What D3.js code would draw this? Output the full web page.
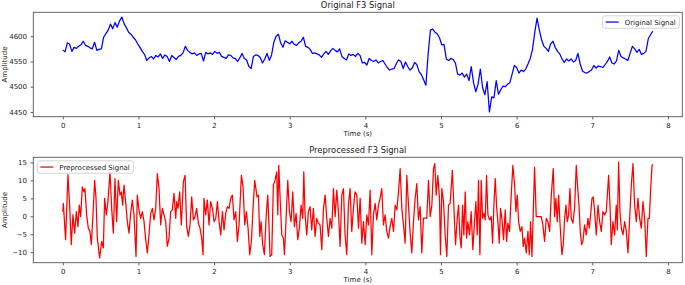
<!DOCTYPE html>
<html>
<head>
<meta charset="utf-8">
<script src="https://cdn.jsdelivr.net/npm/d3@7"></script>
<style>
  body { margin: 0; background: #fff; }
  svg { display: block; font-family: "DejaVu Sans", sans-serif; }
</style>
</head>
<body>
<svg id="chart"></svg>
<script>
const width = 685, height = 285;

// Original F3 signal, one value every 0.03 s (0 .. 7.8 s)
const sampleStep = 0.03;
const origValues = [
  4573,4569,4587,4584,4570,4578,4576,4580,4583,4590,
  4582,4580,4577,4575,4588,4572,4574,4575,4598,4605,
  4612,4624,4615,4627,4618,4630,4638,4625,4617,4608,
  4604,4598,4593,4585,4578,4570,4564,4552,4557,4560,
  4555,4562,4559,4565,4556,4563,4560,4550,4562,4558,
  4554,4560,4562,4567,4580,4572,4568,4565,4567,4562,
  4565,4566,4551,4568,4565,4567,4564,4570,4566,4568,
  4560,4558,4556,4563,4562,4557,4556,4550,4557,4566,
  4556,4553,4540,4536,4560,4563,
  4562,4558,4547,4555,4566,4552,4563,4588,4600,4604,
  4587,4578,4591,4588,4585,4590,4584,4582,4587,4590,
  4598,4580,4578,4574,4566,4567,4565,4563,4558,4565,
  4570,4564,4571,4576,4572,4569,4575,4560,4556,4553,
  4565,4562,4564,4560,4566,4562,4547,4548,4543,4556,
  4552,4550,4553,4547,4550,4552,4545,4538,4533,4535,
  4536,4546,4553,4550,4536,4549,4540,4533,4537,4548,
  4544,4530,4524,4514,4503,4565,4612,4614,4608,4605,
  4597,4583,4584,4555,4552,4556,4554,4547,4525,
  4523,4527,4519,4525,4512,4540,4508,4490,4505,4535,
  4498,4484,4510,4450,4480,4478,4512,4485,4494,4501,
  4500,4505,4508,4525,4542,4538,4527,4533,4530,4535,
  4545,4556,4574,4608,4636,4612,4593,4580,4576,4570,
  4585,4590,4578,4570,4565,4555,4548,4555,4551,4555,
  4549,4552,4566,4545,4531,4528,4527,4530,4533,4542,
  4537,4541,4540,4538,4544,4550,4559,4547,4545,4551,
  4572,4560,4557,4555,4552,4566,4580,4575,4568,4574,
  4564,4566,4570,4595,4603,4610
];

// Preprocessed F3 signal, [time (s), amplitude]
const preSignal = [
  [0,1.3],[0.007,3.6],[0.037,-6.5],[0.068,11.6],[0.09,3.1],[0.112,-7.9],[0.134,0.4],[0.157,-4.7],
  [0.179,1.3],[0.2,-2.9],[0.218,3.1],[0.236,-0.1],[0.258,8.2],[0.28,6.8],[0.293,7.7],[0.315,0.4],
  [0.337,-3.3],[0.359,-4.2],[0.377,-7.9],[0.399,0.4],[0.421,10],[0.439,5],[0.456,-6.1],[0.487,-11.6],
  [0.514,-7],[0.536,-8.8],[0.553,5],[0.575,0.4],[0.597,4.1],[0.624,12.4],[0.646,2.2],[0.668,-4.7],
  [0.69,10.5],[0.712,-1.5],[0.734,10],[0.756,5.9],[0.774,6.8],[0.791,3.1],[0.809,8.7],[0.831,4.1],
  [0.853,-1.5],[0.875,-4.7],[0.897,0.8],[0.919,4.5],[0.941,0.4],[0.968,-11.2],[0.985,5.9],[1.007,1.8],
  [1.03,-0.6],[1.052,1.3],[1.074,-1.5],[1.096,-6.5],[1.118,-10.2],[1.14,-5.2],[1.162,0.8],[1.184,2.2],
  [1.206,-1],[1.228,2.2],[1.25,11.9],[1.272,7.7],[1.294,-2.4],[1.316,2.2],[1.338,0.4],[1.36,-1.5],
  [1.382,-8.4],[1.404,-6.1],[1.426,1.3],[1.448,1.8],[1.47,6.4],[1.493,-0.6],[1.506,4.1],[1.523,2.2],
  [1.545,6.8],[1.567,-2.4],[1.594,9.6],[1.616,11.4],[1.638,-2.9],[1.66,-5.6],[1.682,-2.4],[1.704,5.4],
  [1.726,-1],[1.748,-0.1],[1.77,2.2],[1.792,-1.9],[1.814,-3.3],[1.836,-6.1],[1.854,-10.7],[1.867,5],
  [1.889,0.4],[1.911,4.5],[1.933,-2.4],[1.955,4.1],[1.978,2.2],[2.0,-1.5],[2.022,-0.6],[2.044,4.1],
  [2.066,-1.5],[2.088,-5.2],[2.11,1.3],[2.132,-3.8],[2.154,0.8],[2.176,2.7],[2.198,2.2],[2.22,5],
  [2.242,5.9],[2.264,-1],[2.286,1.3],[2.308,-7],[2.33,-2.4],[2.361,11.4],[2.383,8.2],[2.405,-2.4],
  [2.427,1.3],[2.449,-3.3],[2.471,-10.7],[2.493,-7],[2.515,2.2],[2.537,10],[2.568,5.4],[2.586,5.9],
  [2.604,-5.6],[2.621,-1.5],[2.643,-7.9],[2.665,-10.7],[2.687,-0.6],[2.709,5.9],[2.723,-1],[2.74,-11.2],
  [2.762,-10.7],[2.784,8.7],[2.806,10],[2.828,12.4],[2.842,0.4],[2.855,14.2],[2.877,3.1],[2.895,-5.2],
  [2.917,-6.1],[2.93,-10.7],[2.952,-0.6],[2.974,10],[2.996,1.3],[3.018,-1.5],[3.04,6.8],[3.062,-2.9],
  [3.084,0.8],[3.106,-6.5],[3.128,-3.3],[3.15,3.1],[3.172,-0.6],[3.186,12.4],[3.203,0.4],[3.225,-5.2],
  [3.247,1.3],[3.269,2.7],[3.291,-3.8],[3.313,2.2],[3.335,-5.6],[3.357,-0.6],[3.379,-1.9],[3.401,-2.4],
  [3.424,-9.3],[3.446,2.2],[3.468,5.9],[3.49,-0.6],[3.512,-5.6],[3.534,-0.6],[3.556,-3.3],[3.578,7.7],
  [3.6,-0.1],[3.622,7.3],[3.644,1.3],[3.666,-8.4],[3.688,5.9],[3.71,7.7],[3.732,-5.2],[3.754,-10.7],
  [3.776,3.1],[3.798,7.7],[3.82,-4.2],[3.842,2.2],[3.864,6.8],[3.887,5.9],[3.909,-3.3],[3.931,5],
  [3.953,-7.5],[3.975,-1.5],[3.997,-7.9],[4.019,0.4],[4.041,-2.4],[4.063,7.3],[4.085,-10.7],[4.107,0.4],
  [4.129,3.6],[4.151,-1],[4.173,3.1],[4.195,5],[4.217,7.7],[4.239,-2.4],[4.261,0.4],[4.283,-4.2],
  [4.305,-6.1],[4.327,-2.9],[4.349,-0.6],[4.372,-4.2],[4.394,3.1],[4.416,1.8],[4.438,6.8],[4.46,13.3],
  [4.482,2.2],[4.504,-2.4],[4.526,-7.5],[4.548,11.4],[4.57,3.1],[4.592,-4.7],[4.614,-10.2],[4.636,-1.5],
  [4.658,5],[4.68,9.1],[4.702,-1],[4.724,2.7],[4.746,-10.2],[4.768,-0.5],[4.812,-0.5],[4.835,10],
  [4.857,-0.1],[4.879,3.1],[4.901,13.3],[4.918,14.7],[4.936,5.9],[4.958,11.4],[4.98,5],[4.993,-10.7],
  [5.011,7.7],[5.033,4.1],[5.055,-5.2],[5.077,-11.2],[5.099,3.1],[5.121,3.6],[5.15,12.8],[5.192,-7.9],
  [5.214,-0.6],[5.232,3.1],[5.25,-5.6],[5.267,-8.8],[5.285,3.1],[5.302,-5.2],[5.32,6.8],[5.338,-6.1],
  [5.355,-1.5],[5.377,-5.2],[5.399,1.3],[5.421,-9.3],[5.443,-1.5],[5.461,4.1],[5.479,-5.2],[5.496,10],
  [5.514,-10.7],[5.532,10],[5.549,-0.6],[5.567,0.8],[5.585,-1],[5.602,11.4],[5.62,0.4],[5.642,-1],
  [5.664,-0.1],[5.682,-7.5],[5.699,3.1],[5.717,10.5],[5.735,2.7],[5.752,-1.5],[5.77,-7.5],[5.787,2.2],
  [5.805,-0.6],[5.827,-6.5],[5.849,1.8],[5.867,-7],[5.884,-1.9],[5.906,-4.2],[5.928,5.9],[5.95,14.2],
  [5.973,8.7],[5.99,1.3],[6.008,5.9],[6.026,-1.5],[6.048,-4.2],[6.07,-2.9],[6.087,-8.4],[6.105,-6.1],
  [6.127,-10.2],[6.149,-4.2],[6.167,-10.7],[6.184,-1.5],[6.202,-11.2],[6.22,1.3],[6.237,13.7],[6.259,-0.1],
  [6.325,-0.1],[6.347,-2.4],[6.369,-7],[6.392,-0.6],[6.414,-1.5],[6.436,-4.2],[6.458,5.9],[6.484,13.3],
  [6.502,-0.1],[6.519,5],[6.537,-1.5],[6.555,5.9],[6.572,-1.5],[6.599,-10.7],[6.616,-7.9],[6.634,-0.6],
  [6.652,3.1],[6.669,-1.5],[6.687,0.4],[6.705,7.7],[6.722,-0.6],[6.744,-1.9],[6.766,2.2],[6.788,14.2],
  [6.806,8.2],[6.824,3.1],[6.841,-4.2],[6.859,-7.9],[6.876,-7],[6.898,-2.4],[6.92,-5.2],[6.943,-0.6],
  [6.96,-3.3],[6.978,0.4],[6.996,5],[7.013,5.4],[7.031,1.3],[7.053,-5.2],[7.075,3.1],[7.097,-1.5],
  [7.119,-4.2],[7.141,1.3],[7.163,0.4],[7.185,1.3],[7.216,11.4],[7.234,3.1],[7.251,-7.9],[7.273,-1.5],
  [7.295,-5.2],[7.317,3.1],[7.331,-3.8],[7.348,15.1],[7.366,1.3],[7.384,-3.3],[7.406,-5.2],[7.428,-1.5],
  [7.45,-4.2],[7.472,-10.2],[7.494,-0.6],[7.516,8.7],[7.538,14.7],[7.56,3.1],[7.582,-1.5],[7.604,5],
  [7.626,-0.6],[7.648,-3.3],[7.67,4.1],[7.692,-0.6],[7.714,-11.2],[7.736,-0.6],[7.754,-0.6],[7.772,7.7],
  [7.79,14.2],[7.8,14.5]
];

const xTicks = [0, 1, 2, 3, 4, 5, 6, 7, 8];
const origYTicks = [4450, 4500, 4550, 4600];
const preYTicks = [-10, -5, 0, 5, 10, 15];

const svg = d3.select("#chart").attr("width", width).attr("height", height);
svg.append("rect").attr("width", width).attr("height", height).attr("fill", "#fff");

// matplotlib-like autoscale: 5% margin on each side
function padded(ext) {
  const m = (ext[1] - ext[0]) * 0.05;
  return [ext[0] - m, ext[1] + m];
}

function drawPanel(p) {
  const left = 33.3, right = 682.3;
  const x = d3.scaleLinear().domain(padded(d3.extent(p.data, d => d[0]))).range([left, right]);
  const y = d3.scaleLinear().domain(padded(d3.extent(p.data, d => d[1]))).range([p.bottom, p.top]);

  const g = svg.append("g");

  g.append("defs").append("clipPath").attr("id", p.id + "-clip")
    .append("rect").attr("x", left).attr("y", p.top)
    .attr("width", right - left).attr("height", p.bottom - p.top);

  const line = d3.line().x(d => x(d[0])).y(d => y(d[1]));
  g.append("path")
    .attr("clip-path", `url(#${p.id}-clip)`)
    .attr("d", line(p.data))
    .attr("fill", "none")
    .attr("stroke", p.color)
    .attr("stroke-width", 1.25)
    .attr("stroke-linejoin", "round");

  // axes
  const xAxis = g.append("g")
    .attr("transform", `translate(0,${p.bottom})`)
    .call(d3.axisBottom(x).tickValues(xTicks).tickFormat(d3.format("d"))
      .tickSize(2.7).tickSizeOuter(0).tickPadding(4));
  const yAxis = g.append("g")
    .attr("transform", `translate(${left},0)`)
    .call(d3.axisLeft(y).tickValues(p.yTicks).tickFormat(d => d < 0 ? "\u2212" + Math.abs(d) : d)
      .tickSize(2.7).tickSizeOuter(0).tickPadding(3.6));
  [xAxis, yAxis].forEach(a => {
    a.select(".domain").remove();
    a.selectAll("line").attr("stroke", "#333").attr("stroke-width", 0.8);
    a.selectAll("text").attr("fill", "#222").attr("font-size", "7px")
      .attr("font-family", "DejaVu Sans, sans-serif");
  });

  // frame
  g.append("rect")
    .attr("x", left).attr("y", p.top)
    .attr("width", right - left).attr("height", p.bottom - p.top)
    .attr("fill", "none").attr("stroke", "#555").attr("stroke-width", 0.9);

  // title and labels
  g.append("text")
    .attr("x", (left + right) / 2).attr("y", p.top - 4.8)
    .attr("text-anchor", "middle").attr("font-size", "8.4px").attr("fill", "#222")
    .text(p.title);
  g.append("text")
    .attr("x", (left + right) / 2).attr("y", p.bottom + 18.8)
    .attr("text-anchor", "middle").attr("font-size", "7px").attr("fill", "#222")
    .text("Time (s)");
  g.append("text")
    .attr("transform", `translate(7.3,${(p.top + p.bottom) / 2})rotate(-90)`)
    .attr("text-anchor", "middle").attr("font-size", "7px").attr("fill", "#222")
    .text("Amplitude");

  // legend
  const lg = g.append("g");
  const box = lg.append("rect")
    .attr("y", p.top + 3.5).attr("height", 12.5).attr("rx", 2)
    .attr("fill", "#fff").attr("fill-opacity", 0.8)
    .attr("stroke", "#ccc").attr("stroke-width", 0.8);
  const label = lg.append("text")
    .attr("y", p.top + 3.5 + 6.25).attr("dy", "0.35em")
    .attr("font-size", "7px").attr("fill", "#222")
    .text(p.legend);
  const w = 22 + label.node().getComputedTextLength() + 3.5;
  const bx = p.legendSide === "right" ? right - 3 - w : left + 4;
  box.attr("x", bx).attr("width", w);
  label.attr("x", bx + 22);
  lg.append("line")
    .attr("x1", bx + 3).attr("x2", bx + 16)
    .attr("y1", p.top + 3.5 + 6.25).attr("y2", p.top + 3.5 + 6.25)
    .attr("stroke", p.color).attr("stroke-width", 1.25);
}

drawPanel({
  id: "orig",
  data: origValues.map((v, i) => [+(i * sampleStep).toFixed(3), v]),
  top: 12.3, bottom: 116.7,
  color: "blue",
  yTicks: origYTicks,
  title: "Original F3 Signal",
  legend: "Original Signal",
  legendSide: "right"
});

drawPanel({
  id: "pre",
  data: preSignal,
  top: 157.3, bottom: 262.7,
  color: "red",
  yTicks: preYTicks,
  title: "Preprocessed F3 Signal",
  legend: "Preprocessed Signal",
  legendSide: "left"
});
</script>
</body>
</html>
